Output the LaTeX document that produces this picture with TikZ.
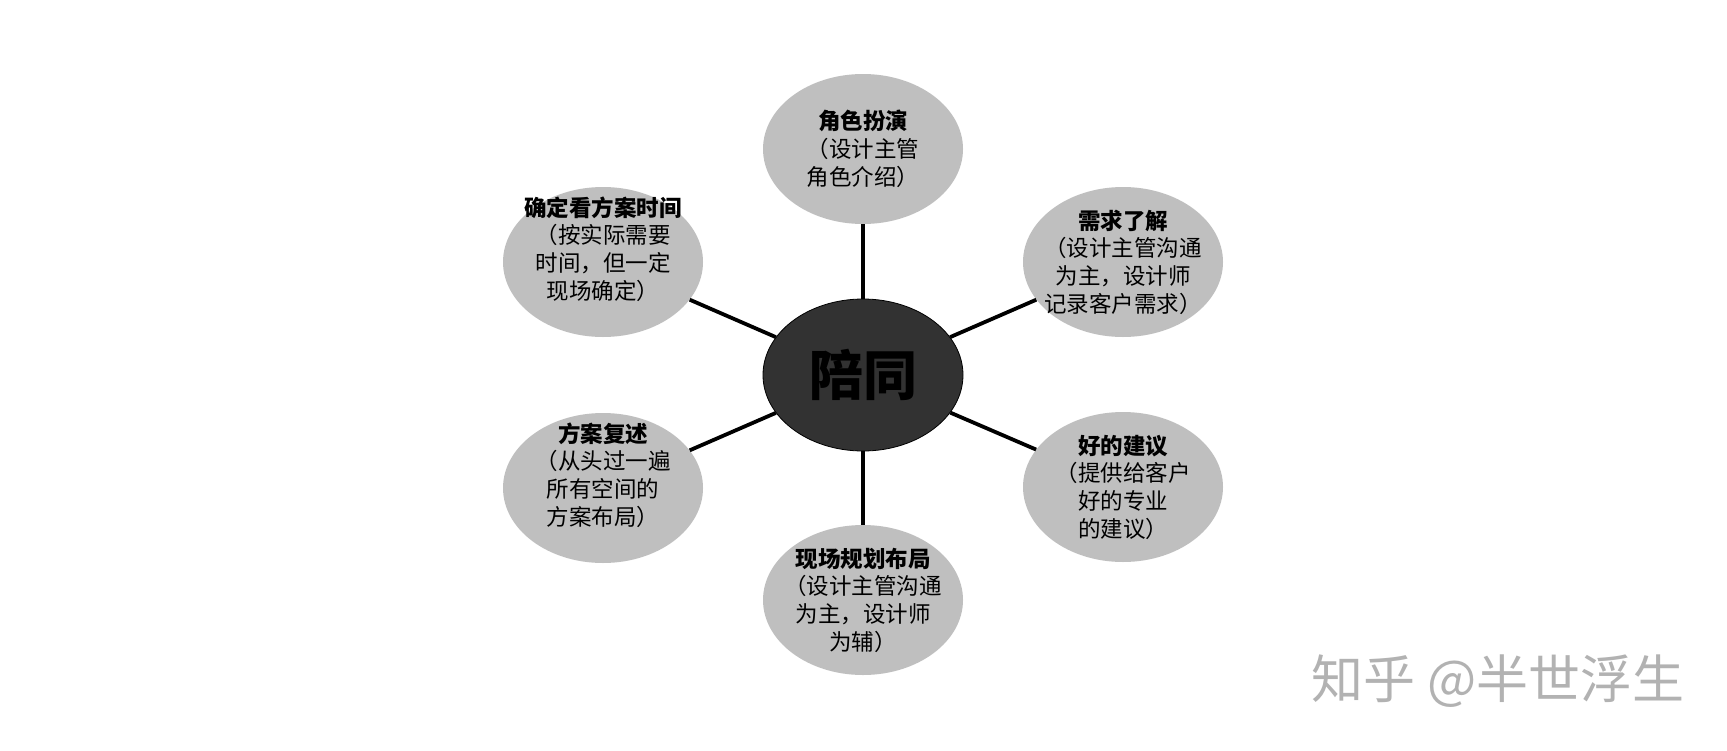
\documentclass[tikz,border=0pt]{standalone}
\usepackage{fontspec}
\newfontfamily\cjk{Noto Sans CJK SC}
\usetikzlibrary{shapes.geometric}
\definecolor{bubgray}{HTML}{BFBFBF}
\definecolor{hubgray}{HTML}{323232}
\definecolor{wmgray}{HTML}{B2B2B2}
\begin{document}
\begin{tikzpicture}[x=1pt,y=-1pt,
  bub/.style={ellipse, fill=bubgray, minimum width=200pt, minimum height=150pt, inner sep=0pt},
  hub/.style={ellipse, fill=hubgray, draw=black, line width=0.8pt, minimum width=200pt, minimum height=152pt, inner sep=0pt,
    font=\cjk\bfseries\fontsize{54}{54}\selectfont, text=black},
  txt/.style={align=center, inner sep=0pt, font=\cjk\fontsize{22.5}{27.7}\selectfont},
  spoke/.style={line width=3.8pt, draw=black},
  wm/.style={inner sep=0pt, text=wmgray, font=\cjk\fontsize{52}{52}\selectfont}]
\useasboundingbox[fill=white] (0,0) rectangle (1727,750);
% hub and bubbles
\node[hub] (c) at (863,375) {陪同};
\node[bub] (t)  at (863,149) {};
\node[bub] (ur) at (1123,262) {};
\node[bub] (lr) at (1123,487) {};
\node[bub] (b)  at (863,600) {};
\node[bub] (ll) at (603,488) {};
\node[bub] (ul) at (603,262) {};
% texts
\node[txt] (tt) at (t) {{\bfseries 角色扮演}\\（设计主管\\角色介绍）};
\node[txt] (urt) at (ur) {{\bfseries 需求了解}\\（设计主管沟通\\为主，设计师\\记录客户需求）};
\node[txt] (lrt) at (lr) {{\bfseries 好的建议}\\（提供给客户\\好的专业\\的建议）};
\node[txt] (bt) at (b) {{\bfseries 现场规划布局}\\（设计主管沟通\\为主，设计师\\为辅）};
\node[txt, yshift=13pt] (llt) at (ll) {{\bfseries 方案复述}\\（从头过一遍\\所有空间的\\方案布局）};
\node[txt, yshift=13pt] (ult) at (ul) {{\bfseries 确定看方案时间}\\（按实际需要\\时间，但一定\\现场确定）};
% spokes
\draw[spoke] (c) -- (t);
\draw[spoke] (c) -- (ur);
\draw[spoke] (c) -- (lr);
\draw[spoke] (c) -- (b);
\draw[spoke] (c) -- (ll);
\draw[spoke] (c) -- (ul);
% watermark
\node[wm] (wmk) at (1498,681) {知乎 @半世浮生};
\end{tikzpicture}
\end{document}
